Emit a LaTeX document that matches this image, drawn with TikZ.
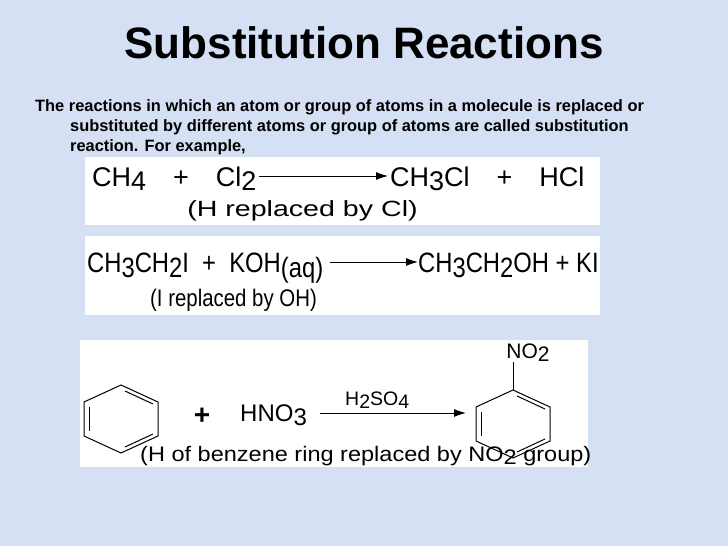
\documentclass[tikz,border=0pt]{standalone}
\usepackage{fontspec}
\setmainfont{Liberation Sans}
\usetikzlibrary{arrows.meta,calc}
\newcommand{\sbs}[1]{\raisebox{-0.35ex}{#1}}
\begin{document}
\begin{tikzpicture}[x=1pt,y=-1pt,
  box/.style={fill=white,draw=none},
  eq/.style={anchor=base west,inner sep=0pt,font=\fontsize{27}{29}\selectfont},
  eqn/.style={anchor=base west,inner sep=0pt,font=\fontsize{28}{30}\selectfont,xscale=0.85},
  note/.style={anchor=base west,inner sep=0pt,font=\fontsize{22}{24}\selectfont},
  par/.style={anchor=base west,inner sep=0pt,font=\bfseries\fontsize{16.4}{18}\selectfont},
  arr/.style={-{Latex[length=12pt,width=8pt]},line width=1pt},
  ring/.style={line width=1pt}]
\useasboundingbox (0,0) rectangle (728,546);
\fill[color={rgb,255:red,214;green,224;blue,244}] (0,0) rectangle (728,546);
\node[anchor=base,inner sep=0pt,font=\bfseries\fontsize{44}{48}\selectfont] (title) at (364,58) {Substitution Reactions};
\node[par] (p1) at (35,111) {The reactions in which an atom or group of atoms in a molecule is replaced or};
\node[par] (p2) at (70,131) {substituted by different atoms or group of atoms are called substitution};
\node[par] (p3) at (70,151) {reaction. For example,};
% boxes
\fill[box] (85,157) rectangle (600,225);
\fill[box] (85,236) rectangle (600,315);
\fill[box] (80,340) rectangle (588,467);
% eq1
\node[eq] (a1) at (92,186) {CH\sbs{4}\quad +\quad Cl\sbs{2}};
\node[eq] (b1) at (390,186) {CH\sbs{3}Cl\quad +\quad HCl};
\draw[arr] (a1.base east) ++(2,-10) coordinate (s1) -- (388,176);
\node[note,xscale=1.3] (c1) at (187,216) {(H replaced by Cl)};
% eq2
\node[eqn] (a2) at (87,272) {CH\sbs{3}CH\sbs{2}I\ \ +\ \ KOH\sbs{(aq)}};
\node[eqn] (b2) at (418,272) {CH\sbs{3}CH\sbs{2}OH\ + KI};
\draw[arr] (330,262) -- (418,262);
\node[note,font=\fontsize{24}{26}\selectfont,xscale=0.85] (c2) at (150,306) {(I replaced by OH)};
% eq3 rings
\coordinate (r1) at (121,419);
\draw[ring] ($(r1)+(0,-34)$) coordinate (t1) -- ++(37,17) -- ++(0,34) -- ++(-37,17) -- ++(-37,-17) -- ++(0,-34) -- cycle;
\draw[ring] ($(r1)+(-32,-12)$) -- ++(0,24);
\draw[ring] ($(r1)+(4,-28)$) -- ++(28,13);
\draw[ring] ($(r1)+(4,28)$) -- ++(28,-13);
\node[anchor=base,inner sep=0pt,font=\bfseries\fontsize{28}{30}\selectfont] (plus) at (202,424) {+};
\node[anchor=base west,inner sep=0pt,font=\fontsize{24}{26}\selectfont] (hno) at (240,421) {HNO\sbs{3}};
\draw[arr] (320,413) -- (466,413);
\node[anchor=base west,inner sep=0pt,font=\fontsize{19.5}{21}\selectfont] (cat) at (345,405) {H\sbs{2}SO\sbs{4}};
\coordinate (r2) at (513,424);
\draw[ring] ($(r2)+(0,-34)$) coordinate (t2) -- ++(37,17) -- ++(0,34) -- ++(-37,17) -- ++(-37,-17) -- ++(0,-34) -- cycle;
\draw[ring] ($(r2)+(-32,-12)$) -- ++(0,24);
\draw[ring] ($(r2)+(4,-28)$) -- ++(28,13);
\draw[ring] ($(r2)+(4,28)$) -- ++(28,-13);
\node[anchor=base,inner sep=0pt,font=\fontsize{21}{23}\selectfont] (no2) at (528,358) {NO\sbs{2}};
\draw[ring] (t2) -- (513,362);
\node[anchor=base west,inner sep=0pt,font=\fontsize{21}{23}\selectfont,xscale=1.12] (c3) at (140,461) {(H of benzene ring replaced by NO\sbs{2} group)};
\end{tikzpicture}
\end{document}
